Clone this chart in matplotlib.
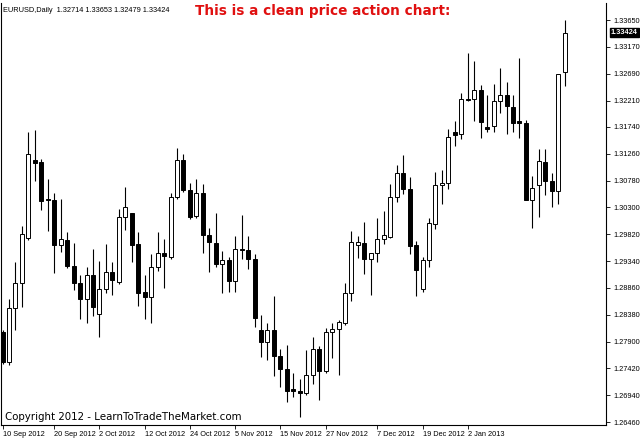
import matplotlib
matplotlib.use("Agg")
import matplotlib.pyplot as plt

opens = [1.28070,1.27533,1.28499,1.28946,1.29751,1.31146,1.31110,1.30448,1.30431,1.29626,
 1.29715,1.29250,1.28946,1.28660,1.29089,1.28391,1.28838,1.29143,1.28964,1.30126,
 1.30198,1.29643,1.28785,1.28695,1.29232,1.29483,1.29411,1.30484,1.31146,1.30609,
 1.30144,1.30556,1.29804,1.29661,1.29286,1.29357,1.28981,1.29554,1.29536,1.29375,
 1.28105,1.27891,1.28105,1.27640,1.27408,1.27050,1.27014,1.26979,1.27300,1.27766,
 1.27372,1.28070,1.28123,1.28230,1.28767,1.29626,1.29661,1.29375,1.29483,1.29733,
 1.29769,1.30484,1.30913,1.30627,1.29626,1.28838,1.29357,1.30001,1.30699,1.30735,
 1.31647,1.31611,1.32237,1.32237,1.32398,1.31736,1.31754,1.32201,1.32309,1.32094,
 1.31843,1.31808,1.30431,1.30699,1.31110,1.30770,1.30591,1.32714]
highs = [1.28105,1.28660,1.29321,1.29966,1.31647,1.31683,1.31164,1.30806,1.30556,1.30448,
 1.29858,1.29661,1.29089,1.29232,1.29554,1.29339,1.29643,1.29321,1.30270,1.30663,
 1.30198,1.29858,1.29089,1.29465,1.29858,1.29733,1.30556,1.31361,1.31253,1.30735,
 1.30806,1.30717,1.29930,1.30198,1.29518,1.29411,1.29787,1.30162,1.29787,1.29465,
 1.28374,1.28230,1.28713,1.27766,1.27837,1.27336,1.27229,1.27748,1.27980,1.27819,
 1.28141,1.28230,1.28284,1.28946,1.29876,1.29787,1.30037,1.29483,1.30109,1.30234,
 1.30717,1.31057,1.31235,1.30842,1.29697,1.29411,1.30109,1.30931,1.30967,1.31700,
 1.31843,1.32344,1.33060,1.32917,1.32487,1.32309,1.32505,1.32791,1.32541,1.32309,
 1.32970,1.31861,1.30860,1.31343,1.31343,1.30913,1.32684,1.33653]
lows = [1.27497,1.27479,1.28105,1.28517,1.29715,1.30770,1.30252,1.29876,1.29125,1.29500,
 1.29214,1.28821,1.28302,1.28230,1.28356,1.27980,1.28767,1.28731,1.28928,1.29894,
 1.29321,1.28535,1.28302,1.28230,1.29160,1.28856,1.29375,1.30448,1.30574,1.30091,
 1.30109,1.29483,1.29143,1.29232,1.28767,1.28785,1.28785,1.29375,1.29196,1.28159,
 1.27623,1.27569,1.27282,1.27086,1.26818,1.26907,1.26549,1.26943,1.27139,1.26853,
 1.27336,1.27605,1.27300,1.28195,1.28624,1.29393,1.29107,1.28731,1.29321,1.29643,
 1.29751,1.30395,1.30538,1.29465,1.28713,1.28785,1.29232,1.29912,1.30359,1.30627,
 1.31396,1.31522,1.32201,1.31843,1.31539,1.31647,1.31647,1.31987,1.31611,1.31647,
 1.31539,1.30431,1.29930,1.30126,1.30520,1.30305,1.30359,1.32479]
closes = [1.27533,1.28499,1.28946,1.29822,1.31253,1.31092,1.30413,1.30431,1.29626,1.29733,
 1.29250,1.28946,1.28660,1.29089,1.28517,1.28838,1.29143,1.28999,1.30126,1.30305,
 1.29626,1.28767,1.28695,1.29232,1.29483,1.29429,1.30484,1.31146,1.30609,1.30126,
 1.30556,1.29804,1.29679,1.29286,1.29357,1.28981,1.29554,1.29536,1.29375,1.28320,
 1.27891,1.28105,1.27640,1.27408,1.27014,1.27014,1.26979,1.27300,1.27766,1.27372,
 1.28070,1.28123,1.28248,1.28767,1.29679,1.29679,1.29375,1.29483,1.29733,1.29804,
 1.30484,1.30913,1.30627,1.29608,1.29178,1.29357,1.30019,1.30699,1.30735,1.31557,
 1.31593,1.32237,1.32219,1.32398,1.31826,1.31700,1.32201,1.32309,1.32112,1.31808,
 1.31808,1.30431,1.30645,1.31128,1.30770,1.30591,1.32684,1.33424]
price_ticks = [1.33650,1.33170,1.32690,1.32210,1.31740,1.31260,1.30780,1.30300,
               1.29820,1.29340,1.28860,1.28380,1.27900,1.27420,1.26940,1.26460]
date_pos = [0,8,15,22,29,36,43,50,58,65,72]
date_labels = ["10 Sep 2012","20 Sep 2012","2 Oct 2012","12 Oct 2012","24 Oct 2012",
               "5 Nov 2012","15 Nov 2012","27 Nov 2012","7 Dec 2012","19 Dec 2012","2 Jan 2013"]

SMALL = dict(family='Liberation Sans', fontsize=5.3)

fig = plt.figure(figsize=(6.4,4.4), dpi=100)
ax = fig.add_axes([0.002, 0.034, 0.945, 0.959])
w = 0.62
for i,(o,h,l,c) in enumerate(zip(opens,highs,lows,closes)):
    ax.vlines(i, l, h, color='black', lw=0.8, zorder=1)
    bot, top = min(o,c), max(o,c)
    fc = 'white' if c >= o else 'black'
    ax.bar(i, max(top-bot, 0.00004), bottom=bot, width=w, color=fc,
           edgecolor='black', linewidth=0.7, zorder=2)

ax.set_xlim(-0.2, 93.4)
ax.set_ylim(1.26406, 1.33954)
ax.spines['top'].set_visible(False)
for s in ['left','right','bottom']:
    ax.spines[s].set_linewidth(0.8)
ax.yaxis.tick_right()
ax.set_yticks(price_ticks)
ax.set_yticklabels([f"{p:.5f}" for p in price_ticks], **SMALL)
ax.tick_params(axis='y', length=3, width=0.6, pad=2)
ax.set_xticks(date_pos)
ax.set_xticklabels(date_labels, ha='left', **SMALL)
ax.tick_params(axis='x', length=3, width=0.6, pad=1)

last = closes[-1]
ax.text(1.008, last, f"{last:.5f}", transform=ax.get_yaxis_transform(),
        color='white', va='center', ha='left', fontweight='bold',
        bbox=dict(facecolor='black', edgecolor='black', pad=0.8), **SMALL)

fig.text(0.005, 0.985, f"EURUSD,Daily  {opens[-1]:.5f} {highs[-1]:.5f} {lows[-1]:.5f} {closes[-1]:.5f}",
         va='top', ha='left', **SMALL)
fig.text(0.305, 0.99, "This is a clean price action chart:", fontsize=9.8, fontweight='bold',
         color='#e01010', va='top', ha='left')
fig.text(0.008, 0.042, "Copyright 2012 - LearnToTradeTheMarket.com", fontsize=7.4, va='bottom', ha='left')

fig.savefig("out.png", dpi=100)
